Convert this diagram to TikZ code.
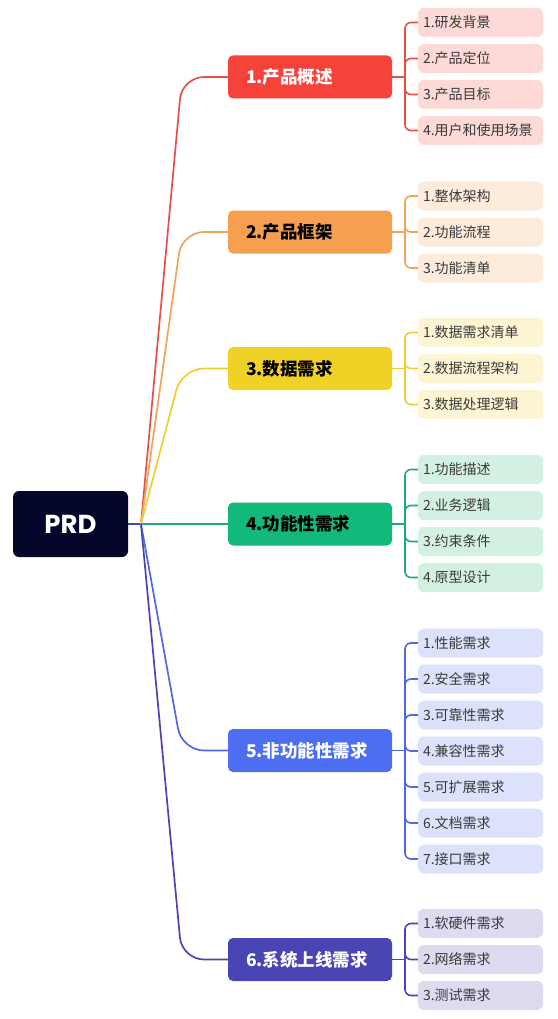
\documentclass[tikz,border=0pt]{standalone}
\usepackage{fontspec}
\setmainfont{Noto Sans CJK SC}
\newfontfamily\popfont{Poppins}
\definecolor{prdc}{HTML}{05062B}
\definecolor{c1}{HTML}{F5433B}\definecolor{l1}{HTML}{E2524B}\definecolor{f1}{HTML}{FDDAD8}
\definecolor{c2}{HTML}{F59F4F}\definecolor{l2}{HTML}{F0A456}\definecolor{f2}{HTML}{FDEBDC}
\definecolor{c3}{HTML}{F0D126}\definecolor{l3}{HTML}{EDCF33}\definecolor{f3}{HTML}{FDF4D3}
\definecolor{c4}{HTML}{13B97A}\definecolor{l4}{HTML}{22A87A}\definecolor{f4}{HTML}{D3F1E3}
\definecolor{c5}{HTML}{4E6EF2}\definecolor{l5}{HTML}{5069E2}\definecolor{f5}{HTML}{DCE2FB}
\definecolor{c6}{HTML}{4A45B5}\definecolor{l6}{HTML}{4A45B5}\definecolor{f6}{HTML}{DCDBF0}
\definecolor{leaftext}{HTML}{3A3A3A}
\begin{document}
\begin{tikzpicture}[x=1pt,y=-1pt,
  prdbox/.style={fill=prdc,rounded corners=6pt,minimum width=115pt,minimum height=66pt,
    text=white,font=\popfont\fontsize{26}{30}\selectfont\bfseries},
  mainbox/.style={fill=#1,rounded corners=5pt,text width=128pt,inner xsep=18pt,
    minimum height=43pt,align=left,font=\fontsize{17.5}{20}\selectfont\bfseries},
  leafbox/.style={fill=#1,rounded corners=6pt,text width=115pt,inner xsep=5pt,
    minimum height=29pt,align=left,text=leaftext,font=\fontsize{14}{16}\selectfont},
  trunk/.style={draw=#1,line width=1.7pt,rounded corners=22pt},
  twig/.style={draw=#1,line width=1.6pt,rounded corners=6pt},
]
\fill[white] (0,0) rectangle (557,1019);
\useasboundingbox (0,0) rectangle (557,1019);

\node[prdbox] (prd) at (70.5,524) {PRD};
\coordinate (j) at (141,524);

\node[mainbox=c1,text=white] (m1) at (310,77) {1.产品概述};
\node[mainbox=c2,text=black] (m2) at (310,232) {2.产品框架};
\node[mainbox=c3,text=black] (m3) at (310,368.5) {3.数据需求};
\node[mainbox=c4,text=black] (m4) at (310,524) {4.功能性需求};
\node[mainbox=c5,text=white] (m5) at (310,750.5) {5.非功能性需求};
\node[mainbox=c6,text=white] (m6) at (310,959.5) {6.系统上线需求};

% trunk connectors
\draw[draw=l6,line width=1.7pt] (prd.east) -- (j);
\draw[trunk=l1] (j) -- (182,77) -- (m1.west);
\draw[trunk=l2] (j) -- (182,232) -- (m2.west);
\draw[trunk=l3] (j) -- (182,368.5) -- (m3.west);
\draw[draw=l4,line width=1.7pt] (j) -- (m4.west);
\draw[trunk=l5] (j) -- (182,750.5) -- (m5.west);
\draw[trunk=l6] (j) -- (182,959.5) -- (m6.west);

% leaves group 1
\node[leafbox=f1] (a1) at (480.5,22.5) {1.研发背景};
\node[leafbox=f1] (a2) at (480.5,58.5) {2.产品定位};
\node[leafbox=f1] (a3) at (480.5,94.5) {3.产品目标};
\node[leafbox=f1] (a4) at (480.5,130.5) {4.用户和使用场景};
\coordinate (b1) at (405,77);
\draw[draw=l1,line width=1.6pt] (m1.east) -- (b1);
\foreach \n in {a1,a2,a3,a4} \draw[twig=l1] (b1) |- (\n.west);

% group 2
\node[leafbox=f2] (b21) at (480.5,196) {1.整体架构};
\node[leafbox=f2] (b22) at (480.5,232) {2.功能流程};
\node[leafbox=f2] (b23) at (480.5,268) {3.功能清单};
\coordinate (b2) at (405,232);
\draw[draw=l2,line width=1.6pt] (m2.east) -- (b2);
\foreach \n in {b21,b22,b23} \draw[twig=l2] (b2) |- (\n.west);

% group 3
\node[leafbox=f3] (c31) at (480.5,332.5) {1.数据需求清单};
\node[leafbox=f3] (c32) at (480.5,368.5) {2.数据流程架构};
\node[leafbox=f3] (c33) at (480.5,404.5) {3.数据处理逻辑};
\coordinate (b3) at (405,368.5);
\draw[draw=l3,line width=1.6pt] (m3.east) -- (b3);
\foreach \n in {c31,c32,c33} \draw[twig=l3] (b3) |- (\n.west);

% group 4
\node[leafbox=f4] (d41) at (480.5,469.5) {1.功能描述};
\node[leafbox=f4] (d42) at (480.5,505.5) {2.业务逻辑};
\node[leafbox=f4] (d43) at (480.5,541.5) {3.约束条件};
\node[leafbox=f4] (d44) at (480.5,577.5) {4.原型设计};
\coordinate (b4) at (405,524);
\draw[draw=l4,line width=1.6pt] (m4.east) -- (b4);
\foreach \n in {d41,d42,d43,d44} \draw[twig=l4] (b4) |- (\n.west);

% group 5
\node[leafbox=f5] (e51) at (480.5,643) {1.性能需求};
\node[leafbox=f5] (e52) at (480.5,679) {2.安全需求};
\node[leafbox=f5] (e53) at (480.5,715) {3.可靠性需求};
\node[leafbox=f5] (e54) at (480.5,751) {4.兼容性需求};
\node[leafbox=f5] (e55) at (480.5,787) {5.可扩展需求};
\node[leafbox=f5] (e56) at (480.5,823) {6.文档需求};
\node[leafbox=f5] (e57) at (480.5,859) {7.接口需求};
\coordinate (b5) at (405,750.5);
\draw[draw=l5,line width=1.6pt] (m5.east) -- (b5);
\foreach \n in {e51,e52,e53,e54,e55,e56,e57} \draw[twig=l5] (b5) |- (\n.west);

% group 6
\node[leafbox=f6] (g61) at (480.5,923.5) {1.软硬件需求};
\node[leafbox=f6] (g62) at (480.5,959.5) {2.网络需求};
\node[leafbox=f6] (g63) at (480.5,995.5) {3.测试需求};
\coordinate (b6) at (405,959.5);
\draw[draw=l6,line width=1.6pt] (m6.east) -- (b6);
\foreach \n in {g61,g62,g63} \draw[twig=l6] (b6) |- (\n.west);
\end{tikzpicture}
\end{document}
